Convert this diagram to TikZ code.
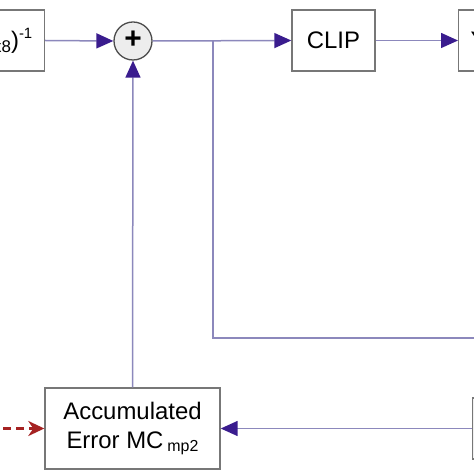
\documentclass[tikz,border=0pt]{standalone}
\usepackage{fontspec}
\setmainfont{Liberation Sans}
\usetikzlibrary{arrows.meta}
\definecolor{wire}{HTML}{8C88BC}
\definecolor{tipc}{HTML}{3A1C8E}
\definecolor{boxc}{HTML}{777777}
\definecolor{redc}{HTML}{A52222}
\begin{document}
\begin{tikzpicture}[x=1bp,y=-1bp,
  blk/.style={draw=boxc, line width=1.4bp, fill=white, rectangle, inner sep=0pt,
    font=\fontsize{24}{30}\selectfont, align=center},
  sumc/.style={draw=black!70, line width=1.3bp, fill=black!7, circle, minimum size=38bp, inner sep=0pt},
  wireln/.style={draw=wire, line width=1.5bp},
  arr/.style={wireln, -{Triangle[length=17bp,width=15bp,color=tipc]}},
  redarr/.style={draw=redc, line width=2.6bp, dash pattern=on 8bp off 5bp,
    -{Stealth[length=16bp,width=15bp,inset=5bp,color=redc]}}
]
\useasboundingbox (0,0) rectangle (474,474);
\clip (0,0) rectangle (474,474);
\fill[white] (0,0) rectangle (474,474);
% nodes
\node[blk, anchor=east, minimum height=61bp, inner xsep=12bp, inner ysep=0pt] (dct) at (45,40.5)
  {(DCT\raisebox{-4bp}{\fontsize{17}{17}\selectfont 8x8})\raisebox{10bp}{\fontsize{15}{15}\selectfont -1}};
\node[sumc] (sum) at (133,41) {};
\node[font=\fontsize{30}{30}\selectfont\bfseries] (plus) at (133,40) {+};
\node[blk, minimum width=83bp, minimum height=61bp] (clip) at (333.5,40.5) {CLIP};
\node[blk, anchor=west, minimum height=61bp, inner xsep=12bp] (yb) at (458,40.5) {Y};
\node[blk, minimum width=175bp, minimum height=81bp] (acc) at (132.5,428.5)
  {Accumulated\\Error MC\,\raisebox{-3bp}{\fontsize{16}{16}\selectfont mp2}};
\node[blk, fill=black!6, anchor=west, minimum width=60bp, minimum height=61bp] (br) at (472,428.5) {};
% coordinates
\coordinate (br1) at (213,41);
\coordinate (br2) at (213,338);
\coordinate (br3) at (480,338);
\coordinate (rin) at (-10,428.5);
% connectors
\draw[arr] (dct.east) -- (sum.west);
\draw[arr] (sum.east) -- (clip.west);
\draw[arr] (clip.east) -- (yb.west);
\draw[wireln] (br1) -- (br2) -- (br3);
\draw[arr] (acc.north) -- (sum.south);
\draw[arr] (br.west) -- (acc.east);
\draw[redarr] (rin) -- (acc.west);
\end{tikzpicture}
\end{document}
